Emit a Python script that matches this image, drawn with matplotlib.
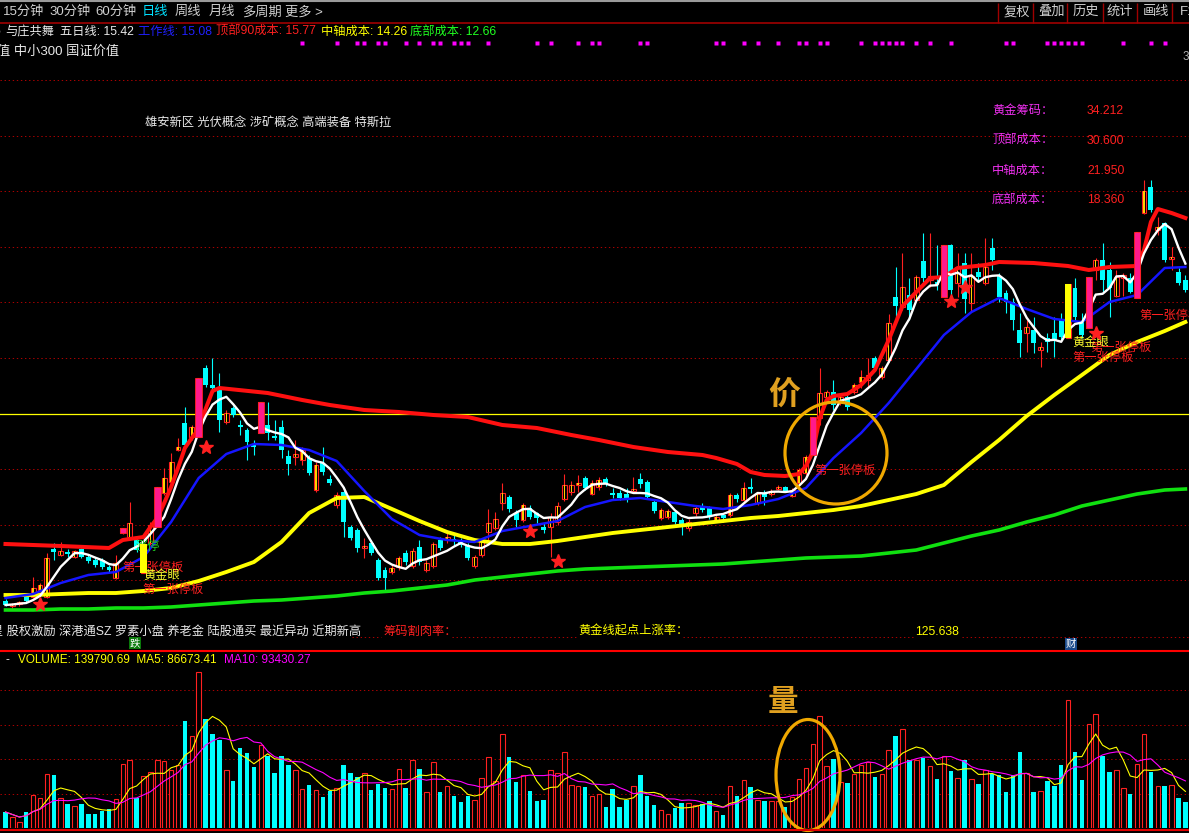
import matplotlib.pyplot as plt
import numpy as np
import pandas as pd
from matplotlib.patches import Ellipse

plt.rcParams['font.family'] = ['Liberation Sans', 'Noto Sans CJK SC', 'DejaVu Sans']

# daily bars (172 sessions)
open_ = [3.99, 3.94, 3.96, 4.03, 4.03, 4.10, 4.03, 4.51, 4.45, 4.48,
         4.43, 4.51, 4.43, 4.40, 4.40, 4.33, 4.22, 4.67, 4.63, 4.60,
         4.27, 4.57, 4.73, 5.07, 5.18, 5.50, 5.77, 5.63, 5.63, 6.32,
         6.15, 6.13, 5.78, 5.92, 5.75, 5.70, 5.54, 5.67, 5.75, 5.64,
         5.73, 5.44, 5.43, 5.40, 5.42, 5.10, 5.37, 5.21, 4.95, 5.08,
         4.73, 4.70, 4.52, 4.57, 4.40, 4.30, 4.28, 4.33, 4.47, 4.34,
         4.53, 4.30, 4.34, 4.60, 4.60, 4.61, 4.60, 4.55, 4.34, 4.45,
         4.68, 4.72, 4.97, 5.03, 4.87, 4.80, 4.92, 4.87, 4.73, 4.73,
         4.78, 5.01, 5.08, 5.15, 5.22, 5.06, 5.13, 5.21, 5.07, 5.07,
         5.06, 5.09, 5.21, 5.18, 4.98, 4.82, 4.83, 4.88, 4.80, 4.72,
         4.87, 4.94, 4.92, 4.80, 4.85, 4.85, 5.05, 5.00, 5.13, 4.97,
         5.07, 5.06, 5.11, 5.13, 5.04, 5.17, 5.27, 5.45, 5.82, 6.03,
         6.08, 5.98, 6.03, 6.08, 6.18, 6.20, 6.42, 6.23, 6.40, 7.03,
         6.93, 7.05, 7.00, 7.39, 7.20, 7.18, 7.03, 7.55, 7.17, 7.37,
         6.97, 7.28, 7.17, 7.52, 7.24, 7.07, 6.98, 6.70, 6.67, 6.70,
         6.50, 6.62, 6.67, 6.80, 6.62, 7.12, 6.78, 6.72, 7.30, 7.40,
         7.30, 7.04, 7.22, 7.22, 7.02, 7.87, 8.13, 7.70, 7.77, 7.41,
         7.28, 7.20]
high = [4.01, 3.97, 3.99, 4.04, 4.23, 4.17, 4.47, 4.57, 4.58, 4.51,
        4.50, 4.52, 4.45, 4.43, 4.42, 4.35, 4.45, 4.72, 4.98, 4.63,
        4.56, 4.78, 5.13, 5.32, 5.47, 5.62, 5.93, 5.75, 6.22, 6.35,
        6.42, 6.27, 5.90, 5.94, 5.80, 5.72, 5.60, 5.98, 5.98, 5.80,
        5.80, 5.50, 5.60, 5.53, 5.45, 5.38, 5.53, 5.25, 5.08, 5.13,
        4.75, 4.72, 4.62, 4.60, 4.42, 4.33, 4.35, 4.44, 4.50, 4.52,
        4.60, 4.40, 4.58, 4.63, 4.67, 4.65, 4.62, 4.57, 4.45, 4.62,
        4.91, 4.88, 5.17, 5.05, 4.90, 4.97, 4.95, 4.88, 4.77, 4.87,
        4.98, 5.26, 5.19, 5.25, 5.24, 5.20, 5.23, 5.23, 5.12, 5.10,
        5.12, 5.23, 5.27, 5.20, 5.00, 4.92, 4.91, 4.90, 4.82, 4.81,
        4.95, 4.97, 4.94, 4.85, 4.87, 5.07, 5.07, 5.18, 5.22, 5.08,
        5.10, 5.11, 5.15, 5.14, 5.12, 5.32, 5.45, 5.83, 6.32, 6.10,
        6.20, 6.07, 6.05, 6.17, 6.30, 6.42, 6.44, 6.34, 6.86, 7.33,
        7.47, 7.22, 7.25, 7.67, 7.67, 7.55, 7.55, 7.56, 7.47, 7.47,
        7.47, 7.37, 7.62, 7.62, 7.27, 7.10, 7.02, 6.87, 6.80, 6.83,
        6.58, 6.67, 6.83, 6.87, 7.16, 7.22, 6.87, 7.23, 7.42, 7.57,
        7.38, 7.30, 7.27, 7.27, 7.68, 8.20, 8.20, 7.83, 7.78, 7.53,
        7.32, 7.25]
low = [3.94, 3.92, 3.94, 3.98, 4.02, 4.08, 4.02, 4.40, 4.44, 4.43,
       4.42, 4.42, 4.37, 4.33, 4.31, 4.28, 4.21, 4.66, 4.60, 4.48,
       4.27, 4.55, 4.73, 5.05, 5.15, 5.49, 5.53, 5.60, 5.63, 6.13,
       6.10, 5.68, 5.76, 5.83, 5.65, 5.40, 5.45, 5.67, 5.60, 5.60,
       5.42, 5.25, 5.35, 5.35, 5.25, 5.08, 5.25, 5.15, 4.92, 4.63,
       4.60, 4.48, 4.42, 4.45, 4.20, 4.10, 4.26, 4.30, 4.35, 4.32,
       4.35, 4.28, 4.32, 4.50, 4.57, 4.55, 4.53, 4.40, 4.32, 4.43,
       4.60, 4.70, 4.90, 4.88, 4.73, 4.78, 4.81, 4.77, 4.67, 4.43,
       4.75, 4.99, 5.05, 5.08, 5.10, 5.05, 5.10, 5.14, 5.02, 5.00,
       4.98, 5.08, 5.12, 5.01, 4.87, 4.80, 4.81, 4.76, 4.65, 4.69,
       4.84, 4.88, 4.81, 4.78, 4.78, 4.83, 4.98, 4.98, 5.07, 4.95,
       4.95, 5.04, 5.10, 5.08, 5.03, 5.15, 5.25, 5.45, 5.75, 6.00,
       5.90, 5.95, 5.90, 6.06, 6.12, 6.13, 6.30, 6.21, 6.38, 6.78,
       6.90, 6.80, 6.98, 7.18, 7.13, 7.10, 7.03, 7.00, 7.03, 6.87,
       6.88, 7.18, 7.15, 7.30, 6.98, 6.87, 6.70, 6.43, 6.48, 6.47,
       6.33, 6.48, 6.43, 6.60, 6.62, 6.80, 6.62, 6.72, 7.20, 7.08,
       6.83, 7.03, 7.04, 7.07, 7.02, 7.86, 7.88, 7.65, 7.38, 7.30,
       7.15, 7.08]
close = [3.95, 3.96, 3.98, 3.99, 4.12, 4.15, 4.42, 4.48, 4.49, 4.46,
         4.49, 4.43, 4.39, 4.35, 4.33, 4.30, 4.37, 4.72, 4.77, 4.50,
         4.56, 4.75, 5.13, 5.22, 5.38, 5.53, 5.55, 5.73, 6.22, 6.15,
         6.12, 5.80, 5.87, 5.85, 5.73, 5.58, 5.53, 5.98, 5.67, 5.62,
         5.50, 5.36, 5.46, 5.50, 5.27, 5.35, 5.28, 5.17, 5.05, 4.78,
         4.62, 4.52, 4.54, 4.47, 4.22, 4.22, 4.32, 4.42, 4.38, 4.49,
         4.38, 4.37, 4.56, 4.52, 4.63, 4.59, 4.55, 4.42, 4.43, 4.60,
         4.77, 4.81, 5.07, 4.91, 4.80, 4.95, 4.83, 4.82, 4.70, 4.83,
         4.94, 5.15, 5.15, 5.17, 5.12, 5.17, 5.20, 5.16, 5.05, 5.02,
         5.01, 5.11, 5.16, 5.03, 4.89, 4.90, 4.89, 4.78, 4.75, 4.78,
         4.92, 4.90, 4.83, 4.83, 4.82, 5.05, 5.01, 5.12, 5.11, 5.06,
         5.03, 5.09, 5.13, 5.09, 5.10, 5.30, 5.43, 5.83, 6.07, 6.08,
         5.95, 6.03, 5.93, 6.15, 6.23, 6.25, 6.32, 6.32, 6.77, 6.94,
         7.13, 6.90, 7.23, 7.22, 7.24, 7.15, 7.55, 7.10, 7.33, 7.01,
         7.24, 7.23, 7.33, 7.40, 7.03, 6.98, 6.80, 6.57, 6.73, 6.57,
         6.53, 6.58, 6.60, 6.63, 7.16, 6.83, 6.65, 7.23, 7.40, 7.20,
         7.12, 7.23, 7.25, 7.08, 7.68, 8.09, 7.90, 7.73, 7.40, 7.42,
         7.17, 7.10]
volume = [16, 11, 6, 16, 33, 30, 54, 53, 30, 24, 22, 24, 14, 14, 17, 19, 29, 64, 68, 30,
          52, 56, 68, 67, 58, 63, 107, 92, 156, 109, 94, 88, 58, 47, 80, 75, 61, 83, 72, 55,
          72, 63, 58, 39, 43, 38, 31, 37, 40, 63, 55, 51, 55, 38, 44, 40, 39, 59, 40, 68,
          59, 36, 66, 36, 42, 32, 26, 32, 28, 50, 71, 47, 94, 71, 46, 53, 37, 27, 28, 58,
          55, 76, 43, 42, 41, 32, 34, 21, 39, 21, 28, 42, 53, 32, 23, 18, 14, 20, 25, 25,
          23, 24, 27, 17, 13, 42, 32, 48, 41, 28, 27, 27, 27, 21, 31, 49, 60, 84, 112, 62,
          69, 46, 45, 54, 63, 66, 51, 54, 78, 92, 99, 68, 68, 70, 62, 49, 72, 57, 50, 68,
          49, 44, 58, 54, 53, 36, 53, 76, 55, 36, 37, 47, 42, 63, 128, 76, 48, 104, 114, 72,
          56, 58, 40, 34, 64, 94, 56, 42, 42, 43, 30, 26]

# indicator lines, read every 4th session
line_idx = [0, 4, 8, 12, 16, 20, 24, 28, 32, 36, 40, 44, 48, 52, 56, 60, 64, 68, 72, 76, 80, 84,
            88, 92, 96, 100, 104, 108, 112, 116, 120, 124, 128, 132, 136, 140, 144, 148, 152,
            156, 160, 164, 168, 171]
work_line = [4.02, 4.06, 4.17, 4.25, 4.28, 4.43, 4.78, 5.22, 5.46, 5.56, 5.55, 5.50, 5.39, 5.09,
             4.81, 4.65, 4.60, 4.58, 4.69, 4.74, 4.79, 4.93, 5.00, 5.02, 4.98, 4.94, 4.91, 4.95,
             5.01, 5.12, 5.42, 5.67, 5.97, 6.31, 6.65, 6.88, 7.02, 6.91, 6.81, 6.78, 6.98, 7.05,
             7.32, 7.33]
mid_cost = [4.05, 4.05, 4.06, 4.07, 4.07, 4.09, 4.12, 4.19, 4.28, 4.38, 4.58, 4.87, 5.02, 5.03,
            4.91, 4.79, 4.68, 4.60, 4.56, 4.56, 4.59, 4.63, 4.67, 4.70, 4.73, 4.76, 4.79, 4.82,
            4.84, 4.87, 4.90, 4.94, 5.00, 5.06, 5.15, 5.38, 5.60, 5.84, 6.05, 6.25, 6.45, 6.58,
            6.69, 6.78]
bottom_cost = [3.90, 3.90, 3.91, 3.91, 3.92, 3.92, 3.93, 3.95, 3.97, 3.99, 4.00, 4.02, 4.04, 4.07,
               4.09, 4.12, 4.15, 4.20, 4.23, 4.26, 4.29, 4.31, 4.32, 4.33, 4.34, 4.35, 4.36, 4.38,
               4.40, 4.42, 4.43, 4.44, 4.47, 4.50, 4.57, 4.64, 4.70, 4.78, 4.85, 4.94, 5.00, 5.06,
               5.10, 5.11]
top_idx = [0, 8, 15, 17, 20, 21, 22, 23, 24, 25, 26, 27, 28, 29, 30, 31, 38, 43, 47, 52, 57, 62,
           67, 72, 77, 82, 86, 91, 96, 101, 103, 106, 108, 110, 113, 115, 116, 117, 118, 119, 120,
           122, 124, 126, 128, 130, 132, 134, 136, 138, 142, 144, 149, 154, 157, 160, 164, 165,
           166, 167, 169, 171]
top_cost = [4.56, 4.54, 4.52, 4.60, 4.63, 4.73, 4.82, 4.97, 5.13, 5.32, 5.52, 5.62, 5.71, 5.91,
            6.09, 6.12, 6.07, 6.00, 5.95, 5.90, 5.88, 5.85, 5.83, 5.75, 5.72, 5.65, 5.60, 5.53,
            5.48, 5.45, 5.42, 5.36, 5.28, 5.25, 5.24, 5.26, 5.34, 5.48, 5.82, 6.00, 6.04, 6.06,
            6.15, 6.30, 6.60, 6.94, 7.08, 7.22, 7.23, 7.32, 7.35, 7.38, 7.37, 7.34, 7.30, 7.33,
            7.34, 7.50, 7.78, 7.91, 7.87, 7.82]

pink_idx = [17, 22, 28, 37, 117, 136, 157, 164]   # limit-up sticks
gold_idx = [20, 154]                               # 黄金眼 sticks
star_idx = [5, 29, 76, 80, 137, 139, 158]
star_price = [3.96, 5.53, 4.69, 4.39, 6.99, 7.13, 6.67]
signal_idx = [43, 48, 51, 52, 54, 55, 58, 60, 62, 63, 65, 66, 67, 70, 77, 79, 83, 85, 86, 92, 93,
              103, 104, 107, 109, 112, 115, 116, 118, 119, 124, 126, 127, 128, 129, 130, 132, 134,
              137, 145, 146, 151, 152, 153, 154, 155, 156, 162, 166, 168]

tag_x = [16.9, 18.8, 157.2, 19.9, 19.9, 117.3, 154.6, 154.6, 164.4]
tag_p = [4.32, 4.53, 6.52, 4.24, 4.10, 5.29, 6.57, 6.42, 6.84]
tag_text = ['第一张停板', '涨停', '第一张停板', '黄金眼', '第一张停板', '第一张停板', '黄金眼',
            '第一张停板', '第一张停板']
tag_color = ['#FF2020', '#20D020', '#FF2020', '#FFFF30', '#FF2020', '#FF2020', '#FFFF30',
             '#FF2020', '#FF2020']

RED = '#FF2020'
CYAN = '#00FFFF'
W, H = 1189, 833

fig = plt.figure(figsize=(W / 100, H / 100), dpi=100)
fig.patch.set_facecolor('black')


def px_axes(top, bottom):
    a = fig.add_axes([0, 1 - bottom / H, 1, (bottom - top) / H])
    a.set_axis_off()
    a.set_xlim(-5.5 / 6.9, (W - 5.5) / 6.9)
    return a


ax = px_axes(24, 651)
ax.set_ylim(3.49, 9.76)
vax = px_axes(655, 828)
vax.set_ylim(0, 173)

o = np.array(open_)
h = np.array(high)
l = np.array(low)
c = np.array(close)
v = np.array(volume, dtype=float)
idx = np.arange(len(c))
up = c >= o
dn = ~up
body = np.maximum(np.abs(c - o), 0.02)
bot = np.minimum(o, c)

# price panel grid
for g in 9.20 - 0.556 * np.arange(10):
    ax.axhline(g, color='#B00000', lw=0.7, ls=(0, (1.4, 2.8)), zorder=1)
ax.axhline(5.86, color='#FFFF00', lw=0.9, zorder=1.5)

# candles
ax.vlines(idx[up], l[up], h[up], color=RED, lw=0.8, zorder=2)
ax.vlines(idx[dn], l[dn], h[dn], color=CYAN, lw=0.8, zorder=2)
ax.bar(idx[up], body[up], bottom=bot[up], width=0.72, facecolor='black',
       edgecolor=RED, linewidth=0.8, zorder=3)
ax.bar(idx[up], body[up], bottom=bot[up], width=0.22, color='#FFD000', linewidth=0, zorder=3.2)
ax.bar(idx[dn], body[dn], bottom=bot[dn], width=0.72, color=CYAN, linewidth=0, zorder=3)

# cost lines
ax.plot(line_idx, bottom_cost, color='#10E010', lw=2.6, zorder=4)
ax.plot(line_idx, mid_cost, color='#FFFF00', lw=2.8, zorder=4)
ax.plot(top_idx, top_cost, color='#FF1010', lw=2.9, zorder=4)
ax.plot(line_idx, work_line, color='#1515FF', lw=1.8, zorder=4.2)
ma5 = pd.Series(c).rolling(5, min_periods=1).mean()
ax.plot(idx, ma5, color='white', lw=1.7, zorder=4.3)

for i, t, p, col in zip(tag_x, tag_text, tag_p, tag_color):
    ax.text(i, p, t, color=col, fontsize=8.8, va='center', ha='left', zorder=4.5)

ax.bar(pink_idx, body[pink_idx], bottom=bot[pink_idx], width=0.95, color='#FF1A8C',
       edgecolor=RED, linewidth=0.6, zorder=5)
ax.bar(gold_idx, body[gold_idx], bottom=bot[gold_idx], width=0.95, color='#FFFF00',
       linewidth=0, zorder=5)
ax.plot(star_idx, star_price, ls='none', marker='*', ms=10, color=RED, mec=RED, zorder=6)
ax.plot(signal_idx, [0.97] * len(signal_idx), ls='none', marker='s', ms=2.2, color='#FF00FF',
        mec='none', transform=ax.get_xaxis_transform(), clip_on=False, zorder=6)

# volume panel
for g in [34.4, 68.8, 103.2, 137.6]:
    vax.axhline(g, color='#B00000', lw=0.7, ls=(0, (1.4, 2.8)), zorder=1)
vax.bar(idx[up], v[up], width=0.66, facecolor='black', edgecolor=RED, linewidth=0.8, zorder=2)
vax.bar(idx[dn], v[dn], width=0.66, color=CYAN, linewidth=0, zorder=2)
vs = pd.Series(v)
vax.plot(idx, vs.rolling(5, min_periods=1).mean(), color='#FFFF00', lw=0.8, zorder=3)
vax.plot(idx, vs.rolling(10, min_periods=1).mean(), color='#FF00FF', lw=0.8, zorder=3)

# pixel overlay for the frame texts
ov = fig.add_axes([0, 0, 1, 1])
ov.set_axis_off()
ov.set_xlim(0, W)
ov.set_ylim(H, 0)


def put(x, y, s, color, size=9.5, **kw):
    ov.text(x, y, s, color=color, fontsize=size, va='center', ha='left', **kw)


ov.hlines(1, 0, W, color='#9A9A9A', lw=1.5)
ov.hlines(23, 0, W, color='#A00000', lw=1.2)
ov.vlines([998, 1033, 1067, 1103, 1137, 1172], 3, 23, color='#A00000', lw=1)
for x, s in [(3, '15分钟'), (49, '30分钟'), (95, '60分钟'), (175, '周线'), (209, '月线'),
             (242, '多周期'), (285, '更多 >')]:
    put(x, 12, s, '#D0D0D0')
put(142, 12, '日线', '#00E0FF')
for x, s in [(1004, '复权'), (1038, '叠加'), (1073, '历史'), (1107, '统计'), (1143, '画线'),
             (1180, 'F1')]:
    put(x, 12, s, '#D0D0D0')

put(-6, 32, '●', '#909090', 8.8)
put(5, 32, '与庄共舞', '#E8E8E8', 8.8)
put(60, 32, '五日线: 15.42', '#E8E8E8', 8.8)
put(138, 32, '工作线: 15.08', '#2020FF', 8.8)
put(216, 32, '顶部90成本: 15.77', RED, 8.8)
put(321, 32, '中轴成本: 14.26', '#FFFF00', 8.8)
put(410, 32, '底部成本: 12.66', '#20FF20', 8.8)
put(-3, 52, '值 中小300 国证价值', '#E8E8E8')
put(1183, 57, '3', '#B0B0B0', 8.5)

put(145, 123, '雄安新区 光伏概念 涉矿概念 高端装备 特斯拉', '#E8E8E8', 8.8)
for y, name, val in [(111, '黄金筹码：', '34.212'), (141, '顶部成本：', '30.600'),
                     (171, '中轴成本：', '21.950'), (200, '底部成本：', '18.360')]:
    put(992, y, name, '#F030F0', 8.8)
    put(1087, y, val, RED, 8.8)

put(768, 396, '价', '#E0A020', 23, fontweight='bold')
ov.add_patch(Ellipse((836, 453), 102, 102, fill=False, ec='#F0A800', lw=2.3))
put(768, 703, '量', '#E0A020', 22, fontweight='bold')
ov.add_patch(Ellipse((808, 775), 64, 111, fill=False, ec='#F0A800', lw=2.3))

put(-9, 632, '星 股权激励 深港通SZ 罗素小盘 养老金 陆股通买 最近异动 近期新高', '#E8E8E8', 8.8)
put(383, 632, '筹码割肉率：', RED, 8.8)
put(578, 632, '黄金线起点上涨率：', '#FFFF00', 8.8)
put(915, 632, '125.638', '#FFFF00', 8.8)
for x0, x1 in [(352, 381), (452, 576), (683, 913), (962, W)]:
    ov.hlines(637, x0, x1, color='#B00000', lw=0.7, ls=(0, (1.4, 2.8)))
ov.text(135, 643, '跌', color='white', fontsize=7.5, ha='center', va='center',
        bbox=dict(facecolor='#0A7A0A', edgecolor='none', pad=0.6))
ov.text(1071, 644, '财', color='white', fontsize=7.5, ha='center', va='center',
        bbox=dict(facecolor='#1A4A8A', edgecolor='none', pad=0.6))
ov.hlines(651, 0, W, color='#FF0000', lw=1.5)
ov.hlines(830, 0, W, color='#E00000', lw=1.5)

put(6, 660, '-', '#E8E8E8', 8.5)
put(18, 660, 'VOLUME: 139790.69  MA5: 86673.41', '#FFFF00', 8.5)
put(224, 660, 'MA10: 93430.27', '#FF00FF', 8.5)

fig.savefig('out.png', dpi=100, facecolor='black')
